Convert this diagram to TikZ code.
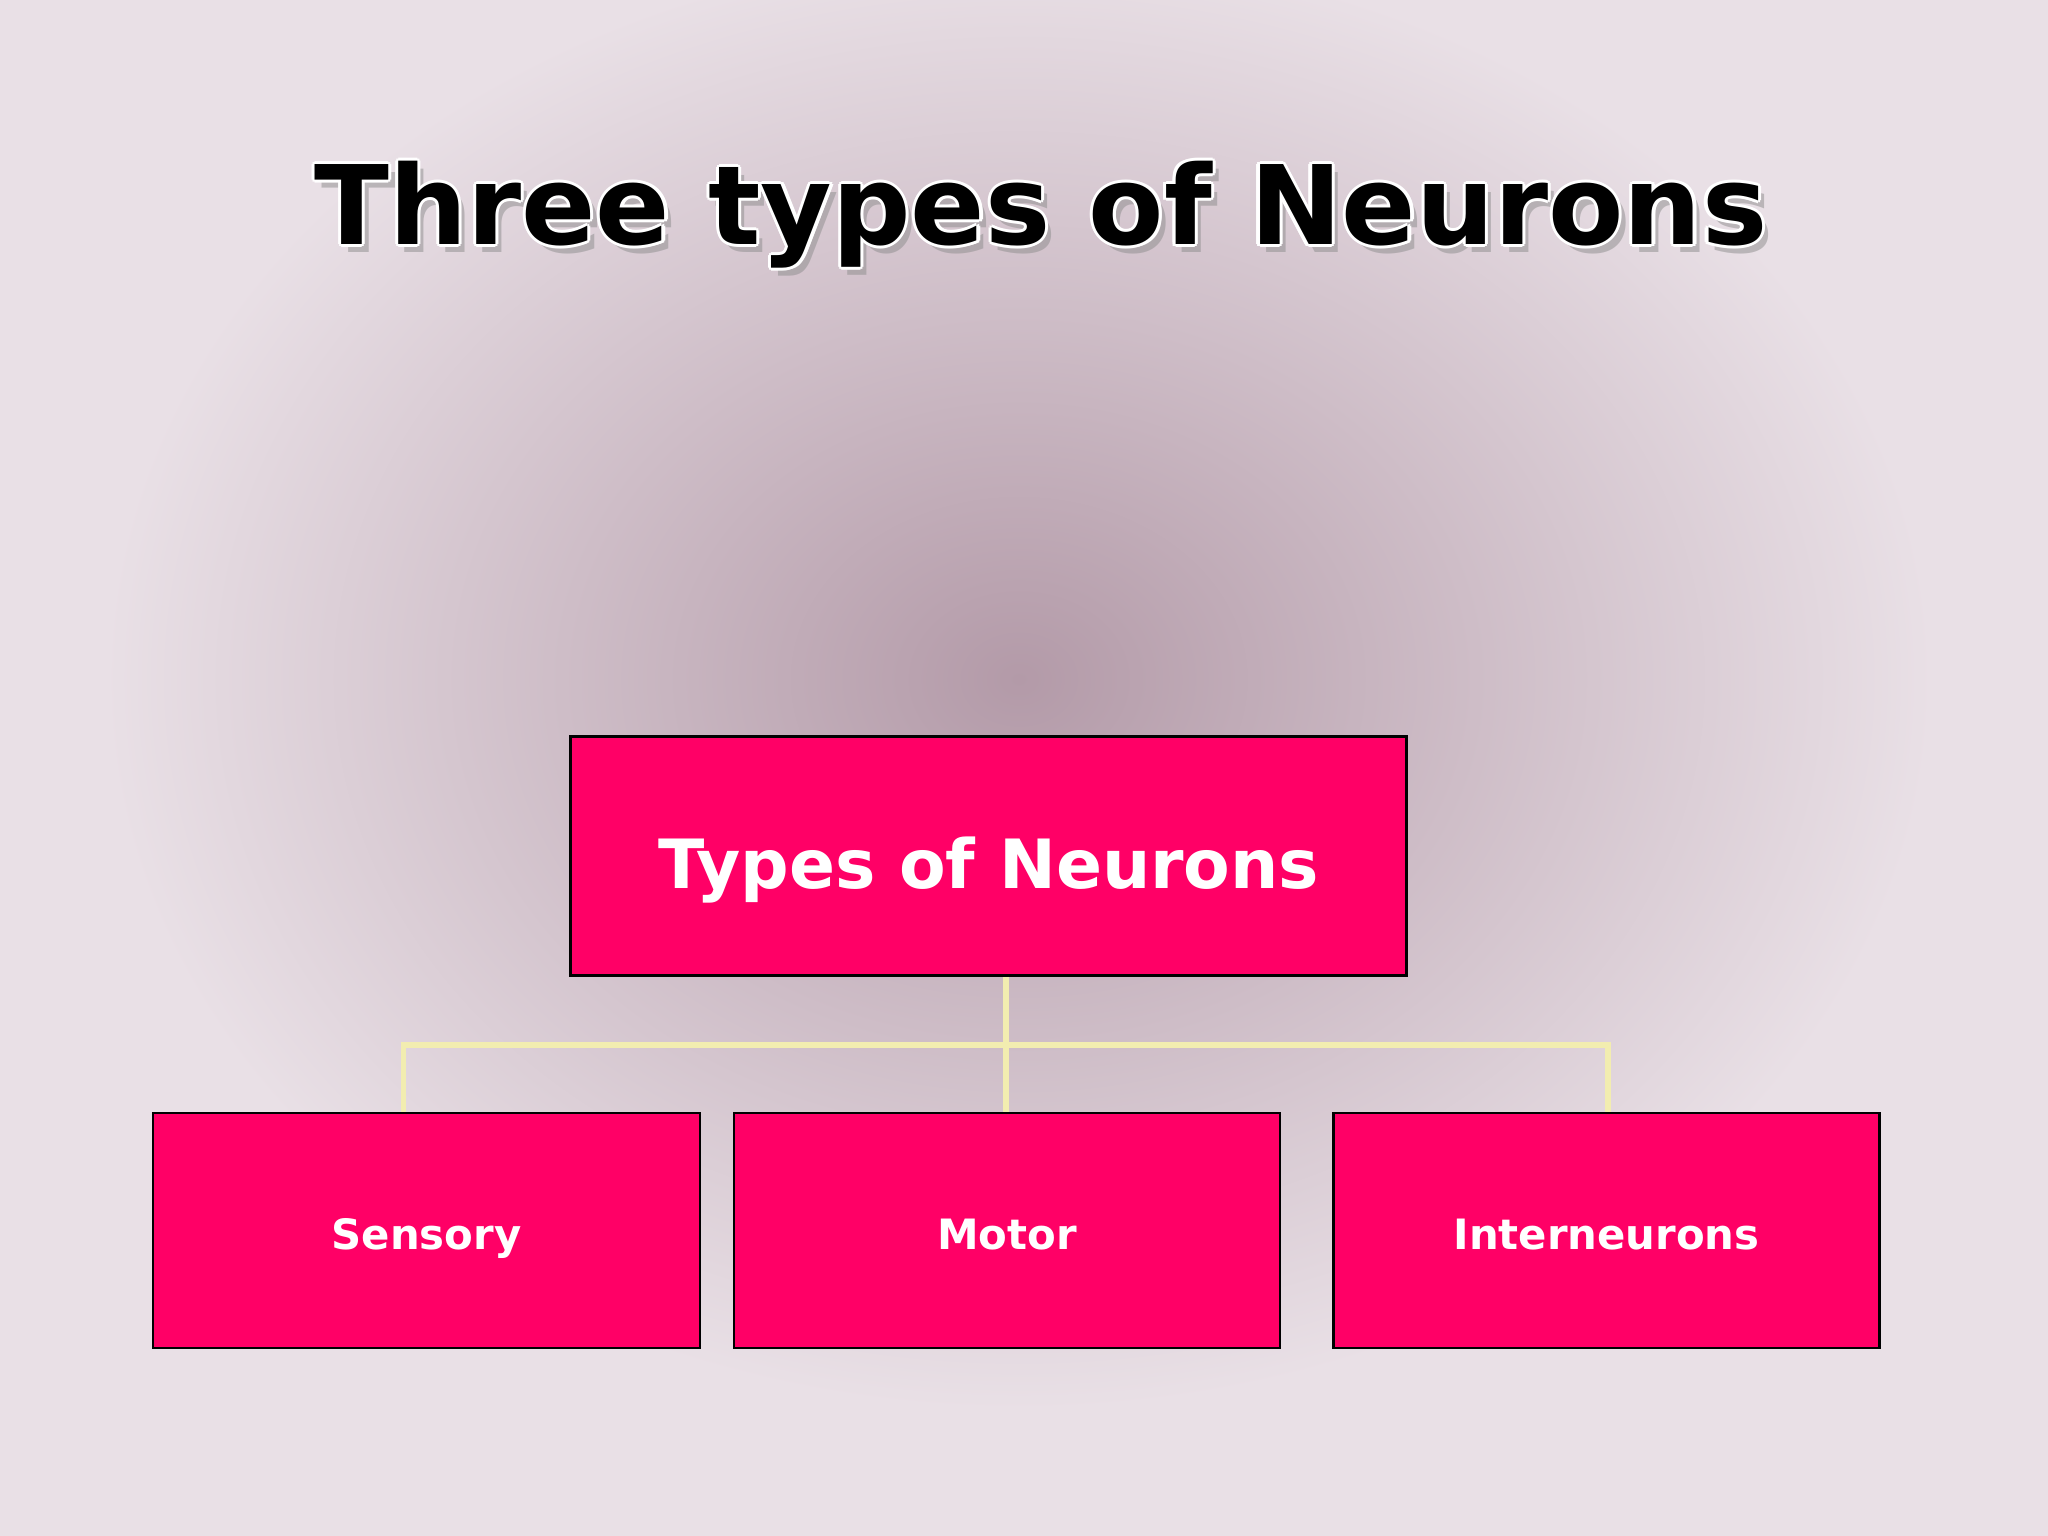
\documentclass[tikz,border=0pt]{standalone}
\usepackage{fontspec}
\setmainfont{DejaVu Sans}
\definecolor{bgout}{HTML}{E9E0E6}
\definecolor{bgin}{HTML}{B39AA8}
\definecolor{boxpink}{HTML}{FF0066}
\definecolor{conn}{HTML}{F2EDB0}
\begin{document}
\begin{tikzpicture}[x=0.5pt,y=-0.5pt,
  box/.style={draw=black,line width=1pt,fill=boxpink},
  lbl/.style={text=white,anchor=base},
  link/.style={draw=conn,line width=2.2pt},
  ttl/.style={font=\bfseries\fontsize{42}{48}\selectfont,anchor=base}]
\useasboundingbox (0,0) rectangle (1568,1176);
\fill[bgout] (0,0) rectangle (1568,1176);
\shade[inner color=bgin,outer color=bgout] (780,520) ellipse [x radius=700,y radius=560];
% title
\node[ttl,text=black!45,opacity=0.5] at (802,193) {Three types of Neurons};
\foreach \a in {0,45,...,315}{\node[ttl,text=white] at ({797+2.4*cos(\a)},{187+2.4*sin(\a)}) {Three types of Neurons};}
\node (title)[ttl,text=black] at (797,187) {Three types of Neurons};
% boxes
\node (top)[box,minimum width=320pt,minimum height=91.5pt] at (757,655.5) {};
\node (s)[box,minimum width=209.5pt,minimum height=90pt] at (326.5,942) {};
\node (m)[box,minimum width=209pt,minimum height=90pt] at (771,942) {};
\node (i)[box,minimum width=209pt,minimum height=90pt] at (1230,942) {};
\node[lbl,font=\bfseries\fontsize{26}{30}\selectfont] at (757,680) {Types of Neurons};
\node[lbl,font=\bfseries\fontsize{16}{19}\selectfont] at (326.5,957) {Sensory};
\node[lbl,font=\bfseries\fontsize{16}{19}\selectfont] at (771,957) {Motor};
\node[lbl,font=\bfseries\fontsize{16}{19}\selectfont] at (1230,957) {Interneurons};
\coordinate (j) at (770,800);
\draw[link] (top.south -| j) -- (j);
\draw[link] (j) -| (s.north -| 309,0);
\draw[link] (j) -| (i.north -| 1231,0);
\draw[link] (j) -- (m.north -| j);
\end{tikzpicture}
\end{document}
